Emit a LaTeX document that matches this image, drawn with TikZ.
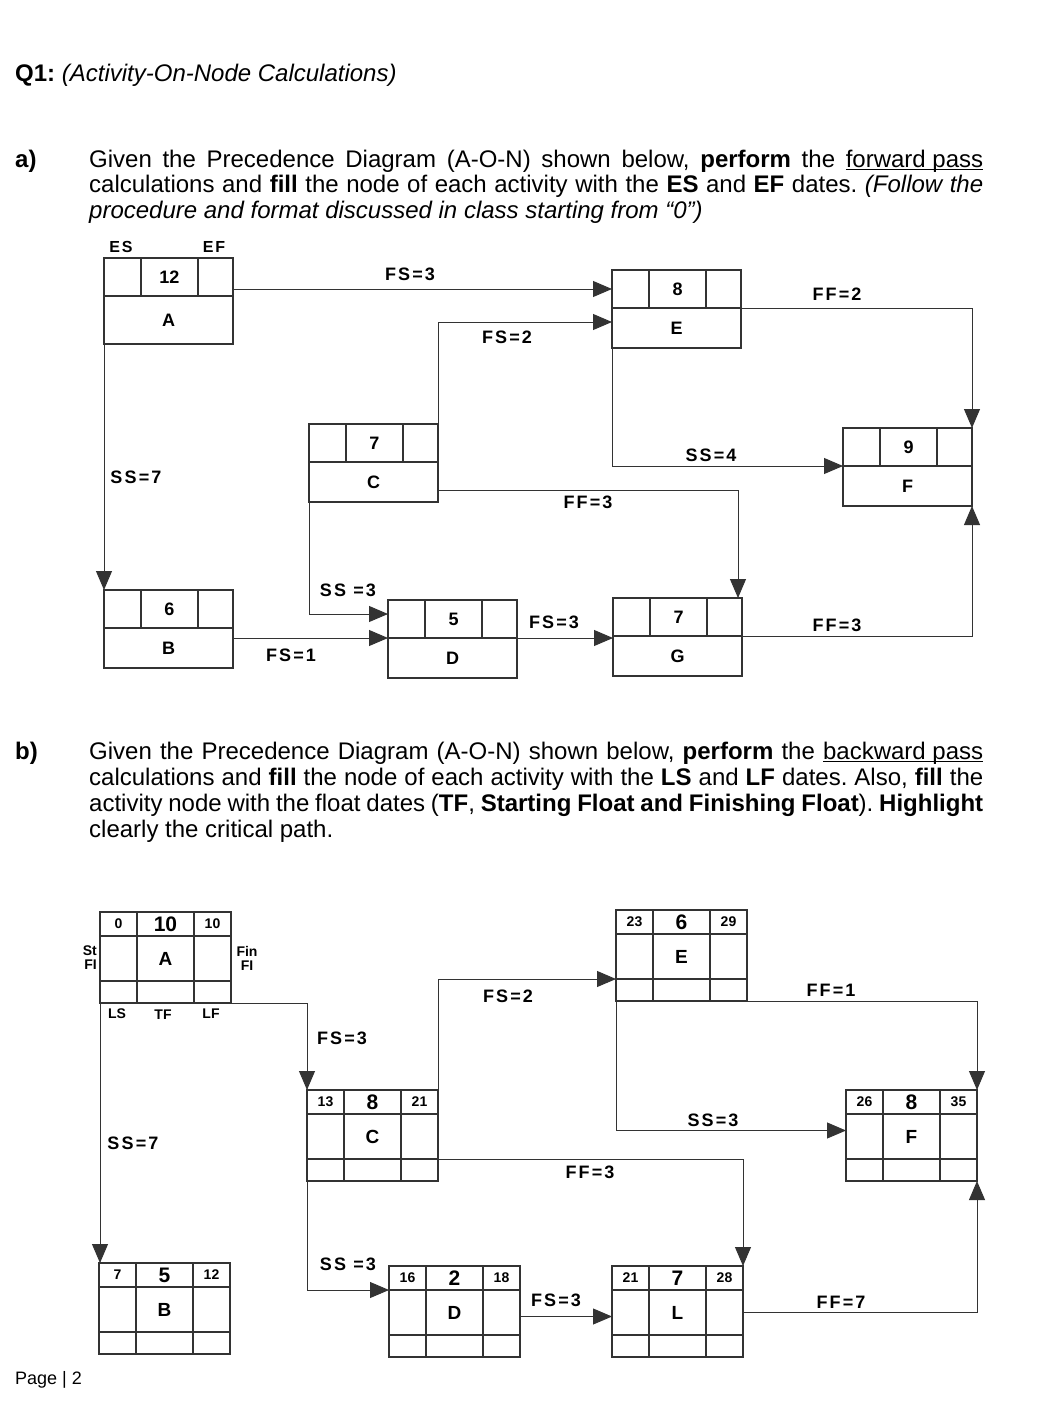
\documentclass[tikz,border=0pt]{standalone}
\usepackage{fontspec}
\setmainfont{Liberation Sans}
\newfontfamily\lblfont[LetterSpace=12.0]{Liberation Sans}
\usetikzlibrary{arrows.meta}
\definecolor{ln}{gray}{0.2}
\newcommand\uline[1]{\setbox0\hbox{#1}\rlap{\rule[-3pt]{\wd0}{1.1pt}}\box0}
\newcommand\aonA[6]{%
  \node[cell={37pt}{38pt}] (#1-1) at (#2,#3) {};
  \node[cell={57pt}{38pt}, font=\nodefnt] (#1-2) at (#1-1.north east) {#4};
  \node[cell={35pt}{38pt}] (#1-3) at (#1-2.north east) {};
  \node[cell={129pt}{#6}, font=\nodefnt] (#1) at (#1-1.south west) {#5};
}
\newcommand\aonB[7]{%
  \node[cell={37pt}{24pt}, font=\smallfnt] (#1-1) at (#2,#3) {#4};
  \node[cell={57pt}{24pt}, font=\bigfnt] (#1-2) at (#1-1.north east) {#5};
  \node[cell={37pt}{24pt}, font=\smallfnt] (#1-3) at (#1-2.north east) {#6};
  \node[cell={37pt}{45pt}] (#1-4) at (#1-1.south west) {};
  \node[cell={57pt}{45pt}, font=\letfnt] (#1) at (#1-4.north east) {#7};
  \node[cell={37pt}{45pt}] (#1-6) at (#1.north east) {};
  \node[cell={37pt}{22pt}] (#1-7) at (#1-4.south west) {};
  \node[cell={57pt}{22pt}] (#1-8) at (#1-7.north east) {};
  \node[cell={37pt}{22pt}] (#1-9) at (#1-8.north east) {};
}
\newcommand\nodefnt{\bfseries\fontsize{18}{20}\selectfont}
\newcommand\smallfnt{\bfseries\fontsize{14}{16}\selectfont}
\newcommand\bigfnt{\bfseries\fontsize{21}{23}\selectfont}
\newcommand\letfnt{\bfseries\fontsize{19}{21}\selectfont}
\begin{document}
\frenchspacing
\begin{tikzpicture}[x=1pt,y=-1pt,
  cell/.style 2 args={draw=ln, line width=1.1pt, inner sep=0pt, outer sep=0pt,
    anchor=north west, minimum width=#1, minimum height=#2},
  conn/.style={draw=ln, line width=0.9pt, -{Triangle[length=19pt,width=16pt]}},
  lbl/.style={inner sep=0pt, font=\lblfont\bfseries\fontsize{18}{20}\selectfont},
  hdr/.style={inner sep=0pt, font=\lblfont\bfseries\fontsize{16}{18}\selectfont},
  sml/.style={inner sep=0pt, font=\bfseries\fontsize{14}{14}\selectfont},
  txt/.style={inner sep=0pt, anchor=base west}]
\useasboundingbox[fill=white] (0,0) rectangle (1063,1424);

% ---------- texts ----------
\node[txt] (q1) at (15,81) {\fontsize{24}{26}\selectfont\textbf{Q1:} \textit{(Activity-On-Node Calculations)}};
\node[txt] (la) at (15,167) {\fontsize{24}{26}\selectfont\textbf{a)}};
\node[txt] (pa) at (89,167) {\parbox[t]{894pt}{\fontsize{24}{25.5}\selectfont
  \hbox to\hsize{Given the Precedence Diagram (A-O-N) shown below, \textbf{perform} the \uline{forward pass}}
  \hbox to\hsize{calculations and \textbf{fill} the node of each activity with the \textbf{ES} and \textbf{EF} dates. \textit{(Follow the}}
  \hbox{\textit{procedure and format discussed in class starting from “0")}}}};
\node[txt] (lb) at (15,759) {\fontsize{24}{26}\selectfont\textbf{b)}};
\node[txt] (pb) at (89,759) {\parbox[t]{894pt}{\fontsize{24}{26.3}\selectfont
  \hbox to\hsize{Given the Precedence Diagram (A-O-N) shown below, \textbf{perform} the \uline{backward pass}}
  \hbox to\hsize{calculations and \textbf{fill} the node of each activity with the \textbf{LS} and \textbf{LF} dates. Also, \textbf{fill} the}
  \hbox to\hsize{activity node with the float dates (\textbf{TF}, \textbf{Starting Float and Finishing Float}). \textbf{Highlight}}
  \hbox{clearly the critical path.}}};
\node[txt] (pg) at (15,1384) {\fontsize{18}{20}\selectfont Page | 2};

% ---------- part a nodes ----------
\aonA{A}{104}{258}{12}{A}{48pt}
\aonA{E}{612}{270}{8}{E}{40pt}
\aonA{C}{309}{424}{7}{C}{40pt}
\aonA{F}{843}{428}{9}{F}{40pt}
\aonA{B}{104}{590}{6}{B}{40pt}
\aonA{D}{388}{600}{5}{D}{40pt}
\aonA{G}{613}{598}{7}{G}{40pt}
\node[hdr] (es) at (121,247) {ES};
\node[hdr] (ef) at (214,247) {EF};

% ---------- part a connectors ----------
\draw[conn] (A-3.east |- E-1.west) -- (E-1.west);
\draw[conn] (C-3.north east) |- ([yshift=6pt]E.west);
\draw[conn] (E-3.south east) -| (F-3.north east);
\draw[conn] (E.south west) |- (F-1.south west);
\draw[conn] ([yshift=-8pt]C.east) -| ([xshift=-4pt]G-3.north east);
\draw[conn] (C.south west) |- ([yshift=5pt]D-1.west);
\draw[conn] (A.south west) -- (B-1.north west);
\draw[conn] (B.east |- D-1.south west) -- (D-1.south west);
\draw[conn] (D-3.south east) -- (D-3.south east -| G-1.west);
\draw[conn] (G-3.south east) -| (F.south east);

\node[lbl] (a1) at (410,274) {FS=3};
\node[lbl] (a2) at (507,337) {FS=2};
\node[lbl] (a3) at (837,294) {FF=2};
\node[lbl] (a4) at (711,455) {SS=4};
\node[lbl] (a5) at (136,477) {SS=7};
\node[lbl] (a6) at (588,502) {FF=3};
\node[lbl] (a7) at (348,590) {SS =3};
\node[lbl] (a8) at (554,622) {FS=3};
\node[lbl] (a9) at (291,655) {FS=1};
\node[lbl] (a10) at (837,625) {FF=3};

% ---------- part b nodes ----------
\aonB{bA}{100}{912}{0}{10}{10}{A}
\aonB{bE}{616}{910}{23}{6}{29}{E}
\aonB{bF}{846}{1090}{26}{8}{35}{F}
\aonB{bC}{307}{1090}{13}{8}{21}{C}
\aonB{bD}{389}{1266}{16}{2}{18}{D}
\aonB{bL}{612}{1266}{21}{7}{28}{L}
\aonB{bB}{99}{1263}{7}{5}{12}{B}

\node[sml, align=right, anchor=east] (stfi) at (97,958) {St\\FI};
\node[sml, align=center] (finfi) at (247,958) {Fin\\FI};
\node[sml] (ls) at (117,1014) {LS};
\node[sml] (tf) at (163,1015) {TF};
\node[sml] (lf) at (211,1014) {LF};

% ---------- part b connectors ----------
\draw[conn] (bA-9.south east) -| (bC-1.north west);
\draw[conn] (bA-7.south west) -- (bA-7.south west |- bB-1.north);
\draw[conn] (bC-3.north east) |- (bE-7.north west);
\draw[conn] (bE-9.south east) -| (bF-3.north east);
\draw[conn] (bE-7.south west) |- ([yshift=6pt]bF-4.west);
\draw[conn] (bC-6.south east) -| (bL-3.north east);
\draw[conn] (bC-7.south west) |- (bD-1.south west);
\coordinate (dl) at ([yshift=-4pt]bD-6.east);
\draw[conn] (dl) -- (dl -| bL-4.west);
\draw[conn] (bL-6.east) -| (bF-9.south east);

\node[lbl] (b1) at (342,1038) {FS=3};
\node[lbl] (b2) at (133,1143) {SS=7};
\node[lbl] (b3) at (508,996) {FS=2};
\node[lbl] (b4) at (831,990) {FF=1};
\node[lbl] (b5) at (713,1120) {SS=3};
\node[lbl] (b6) at (590,1172) {FF=3};
\node[lbl] (b7) at (348,1264) {SS =3};
\node[lbl] (b8) at (556,1300) {FS=3};
\node[lbl] (b9) at (841,1302) {FF=7};
\end{tikzpicture}
\end{document}
